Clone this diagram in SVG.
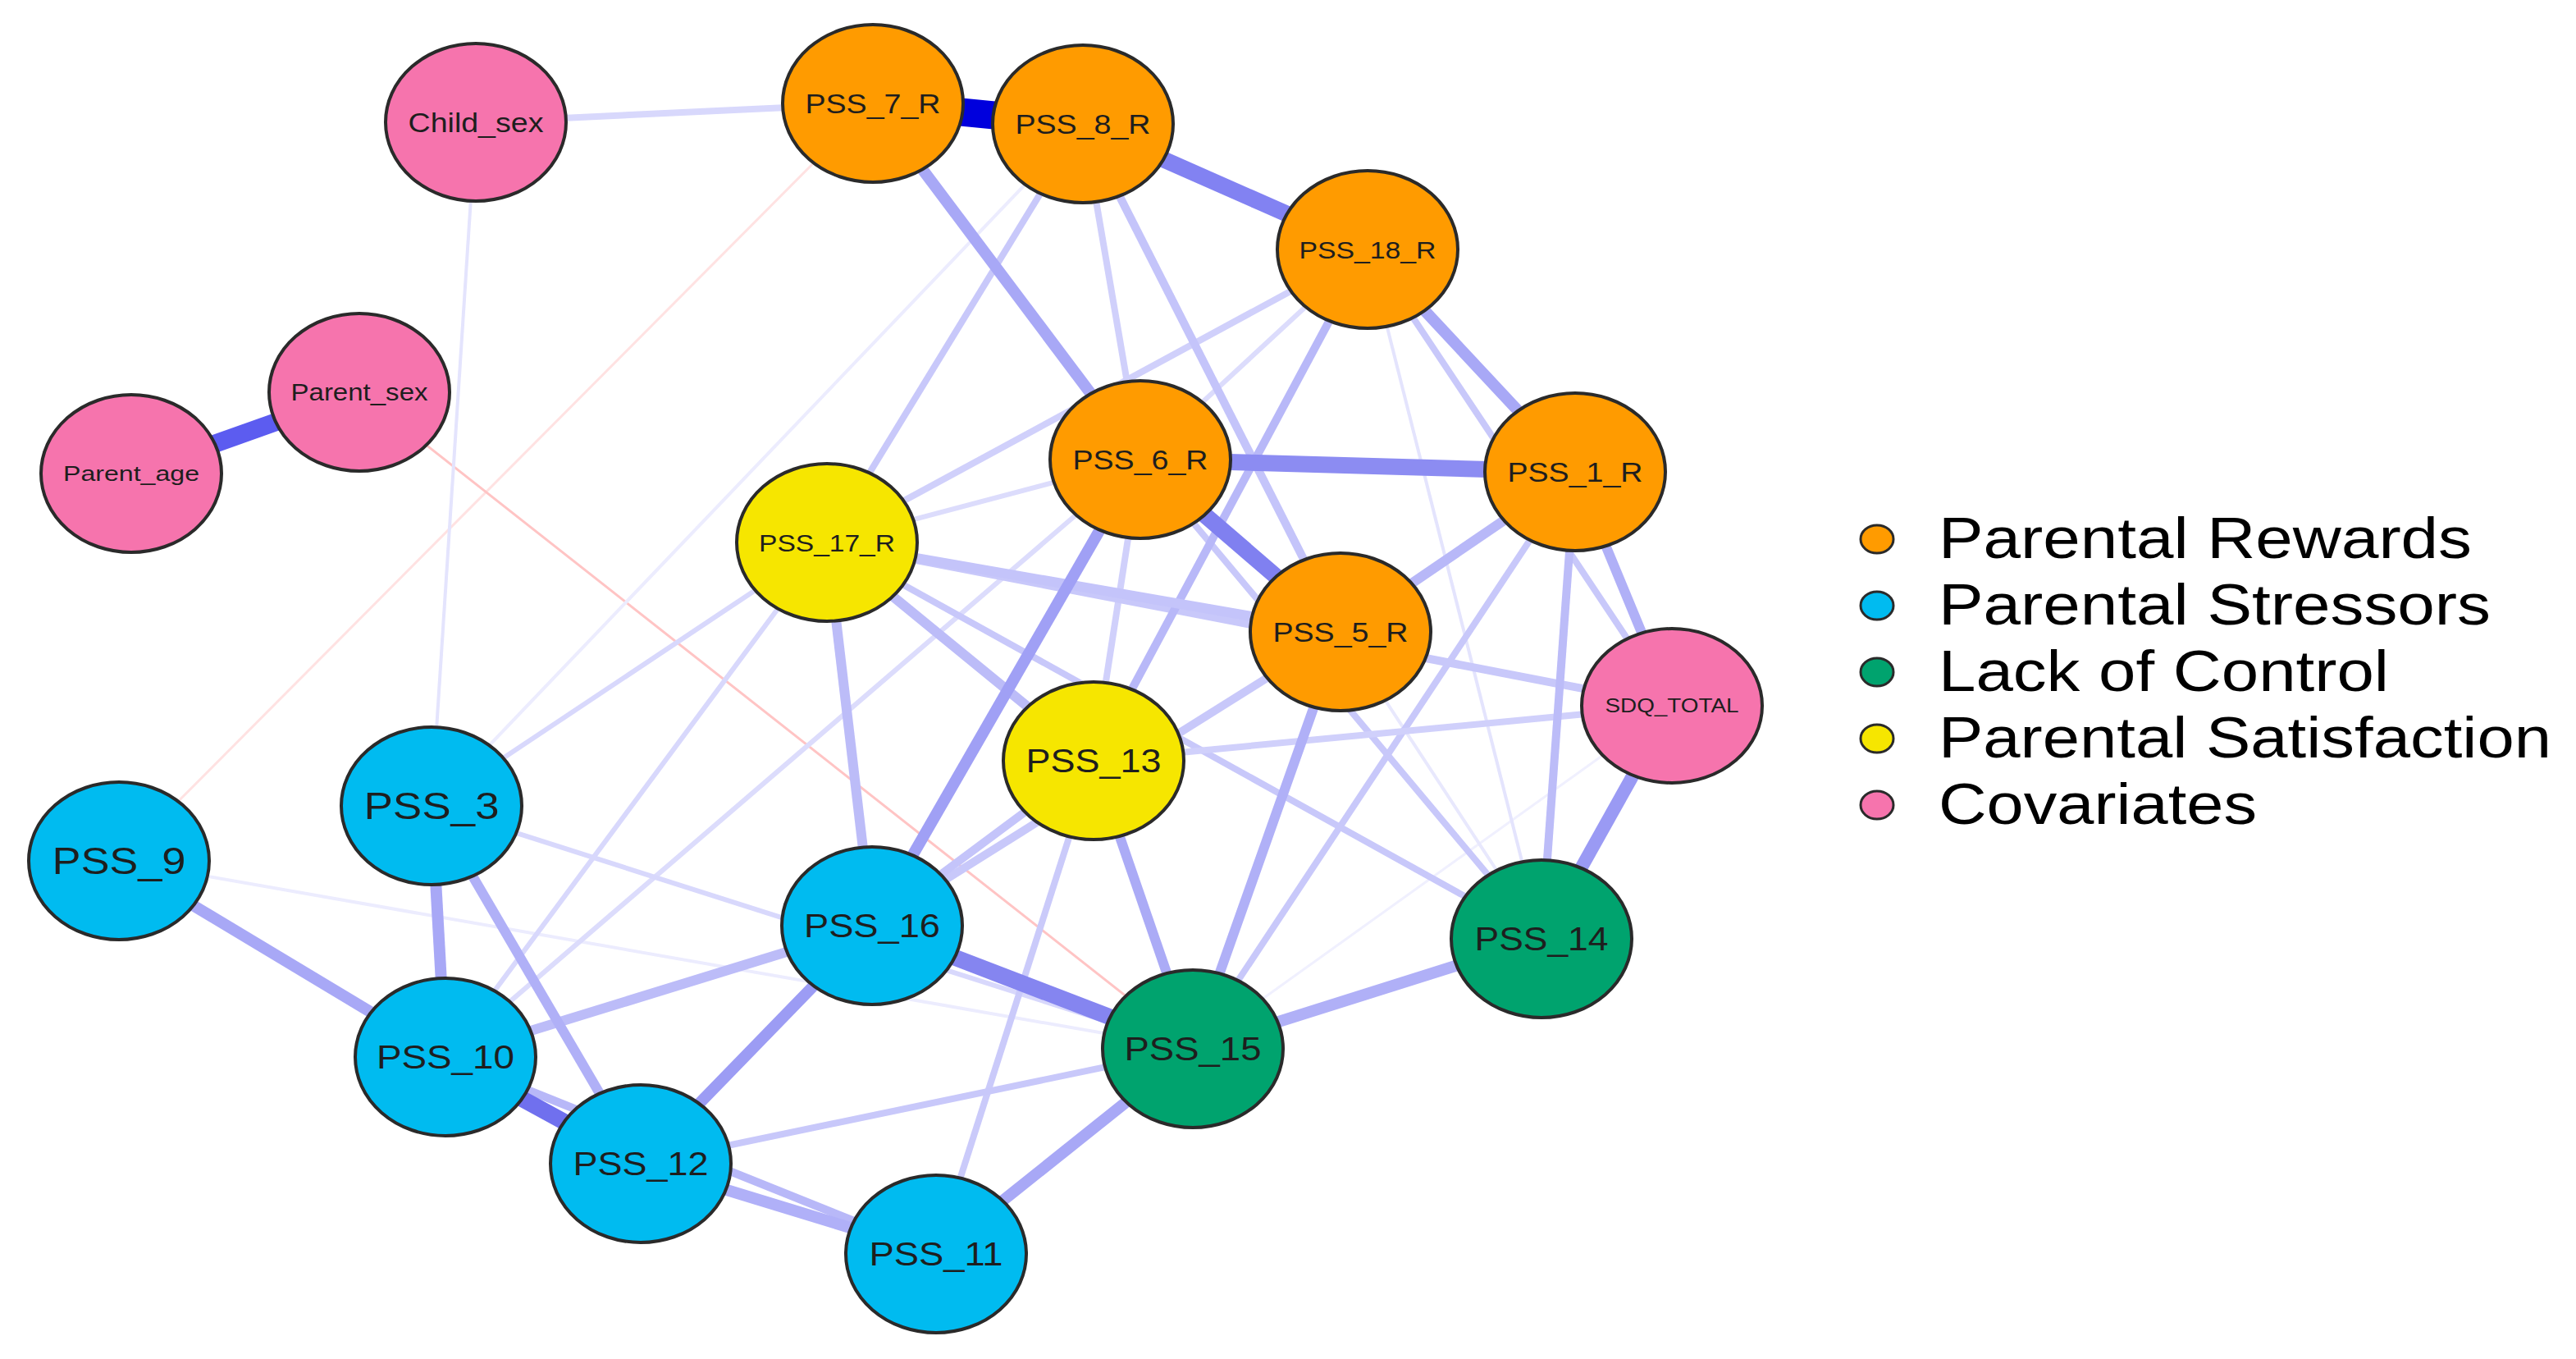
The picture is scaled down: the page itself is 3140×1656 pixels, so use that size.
<svg xmlns="http://www.w3.org/2000/svg" width="3140" height="1656" viewBox="0 0 3140 1656">
<style>
.e{fill:none;stroke-linecap:butt}
.n{stroke:#2a2a2a;stroke-width:4}
.o{fill:#FF9B00}.b{fill:#00BBF0}.g{fill:#00A36E}.y{fill:#F6E600}.p{fill:#F674AD}
.t{font-family:"Liberation Sans",Arial,Helvetica,sans-serif;fill:#1e1e1e;text-anchor:middle}
.lg{font-family:"Liberation Sans",Arial,Helvetica,sans-serif;fill:#000;font-size:70px}
.lc{stroke:#2a2a2a;stroke-width:3}
</style>
<rect width="3140" height="1656" fill="#fff"/>
<g id="connectors">
<!-- faint / negative -->
<line class="e" x1="1064" y1="126" x2="145" y2="1049" stroke="#ffe2e2" stroke-width="3"/>
<line class="e" x1="438" y1="478" x2="1454" y2="1278" stroke="#ffc4c4" stroke-width="3"/>
<line class="e" x1="2038" y1="860" x2="1454" y2="1278" stroke="#f0f0fe" stroke-width="3"/>
<line class="e" x1="145" y1="1049" x2="1454" y2="1278" stroke="#ececfe" stroke-width="4"/>
<line class="e" x1="1320" y1="151" x2="526" y2="982" stroke="#ececfe" stroke-width="4"/>
<line class="e" x1="1667" y1="304" x2="1879" y2="1144" stroke="#e4e4fd" stroke-width="4"/>
<line class="e" x1="1634" y1="770" x2="1879" y2="1144" stroke="#e8e8fd" stroke-width="4"/>
<line class="e" x1="580" y1="149" x2="526" y2="982" stroke="#e4e4fd" stroke-width="4"/>
<!-- light -->
<line class="e" x1="1390" y1="560" x2="1008" y2="661" stroke="#dcdcfc" stroke-width="6"/>
<line class="e" x1="1667" y1="304" x2="1390" y2="560" stroke="#dcdcfc" stroke-width="6"/>
<line class="e" x1="526" y1="982" x2="1008" y2="661" stroke="#d8d8fc" stroke-width="6"/>
<line class="e" x1="543" y1="1288" x2="1008" y2="661" stroke="#d8d8fc" stroke-width="6"/>
<line class="e" x1="543" y1="1288" x2="1390" y2="560" stroke="#dcdcfc" stroke-width="6"/>
<line class="e" x1="526" y1="982" x2="1454" y2="1278" stroke="#d8d8fc" stroke-width="6"/>
<line class="e" x1="580" y1="149" x2="1064" y2="126" stroke="#d8d8fc" stroke-width="8"/>
<line class="e" x1="1320" y1="151" x2="1390" y2="560" stroke="#d0d0fb" stroke-width="8"/>
<line class="e" x1="1320" y1="151" x2="1008" y2="661" stroke="#c8c8fa" stroke-width="8"/>
<line class="e" x1="1667" y1="304" x2="1008" y2="661" stroke="#d0d0fb" stroke-width="8"/>
<line class="e" x1="1667" y1="304" x2="2038" y2="860" stroke="#c8c8fa" stroke-width="8"/>
<line class="e" x1="1920" y1="575" x2="1454" y2="1278" stroke="#c8c8fa" stroke-width="8"/>
<line class="e" x1="1390" y1="560" x2="1879" y2="1144" stroke="#c8c8fa" stroke-width="8"/>
<line class="e" x1="1008" y1="661" x2="1879" y2="1144" stroke="#c8c8fa" stroke-width="8"/>
<line class="e" x1="1333" y1="927" x2="2038" y2="860" stroke="#d0d0fb" stroke-width="8"/>
<line class="e" x1="1333" y1="927" x2="1141" y2="1528" stroke="#cacafa" stroke-width="8"/>
<line class="e" x1="781" y1="1418" x2="1454" y2="1278" stroke="#c8c8fa" stroke-width="8"/>
<line class="e" x1="1390" y1="560" x2="1333" y2="927" stroke="#d0d0fb" stroke-width="8"/>
<line class="e" x1="1634" y1="770" x2="1063" y2="1128" stroke="#c8c8fa" stroke-width="10"/>
<line class="e" x1="1333" y1="927" x2="1063" y2="1128" stroke="#c4c4fa" stroke-width="10"/>
<line class="e" x1="1008" y1="661" x2="2038" y2="860" stroke="#c8c8fa" stroke-width="10"/>
<line class="e" x1="1320" y1="151" x2="1634" y2="770" stroke="#c4c4fa" stroke-width="10"/>
<line class="e" x1="1667" y1="304" x2="1333" y2="927" stroke="#b8b8f8" stroke-width="10"/>
<line class="e" x1="1920" y1="575" x2="1879" y2="1144" stroke="#bcbcf8" stroke-width="10"/>
<line class="e" x1="543" y1="1288" x2="1141" y2="1528" stroke="#b8b8f8" stroke-width="10"/>
<!-- medium -->
<line class="e" x1="1008" y1="661" x2="1634" y2="770" stroke="#c4c4fa" stroke-width="12"/>
<line class="e" x1="1008" y1="661" x2="1333" y2="927" stroke="#bcbcf8" stroke-width="12"/>
<line class="e" x1="1008" y1="661" x2="1063" y2="1128" stroke="#bcbcf8" stroke-width="12"/>
<line class="e" x1="543" y1="1288" x2="1063" y2="1128" stroke="#bcbcf8" stroke-width="12"/>
<line class="e" x1="1920" y1="575" x2="1634" y2="770" stroke="#b8b8f8" stroke-width="12"/>
<line class="e" x1="1920" y1="575" x2="2038" y2="860" stroke="#b0b0f7" stroke-width="12"/>
<line class="e" x1="1634" y1="770" x2="1454" y2="1278" stroke="#b0b0f7" stroke-width="12"/>
<line class="e" x1="1333" y1="927" x2="1454" y2="1278" stroke="#ababf6" stroke-width="12"/>
<line class="e" x1="526" y1="982" x2="781" y2="1418" stroke="#b0b0f7" stroke-width="12"/>
<line class="e" x1="1879" y1="1144" x2="1454" y2="1278" stroke="#b0b0f7" stroke-width="14"/>
<line class="e" x1="1141" y1="1528" x2="1454" y2="1278" stroke="#a8a8f6" stroke-width="14"/>
<line class="e" x1="781" y1="1418" x2="1141" y2="1528" stroke="#b0b0f8" stroke-width="14"/>
<line class="e" x1="145" y1="1049" x2="543" y2="1288" stroke="#a8a8f6" stroke-width="14"/>
<line class="e" x1="526" y1="982" x2="543" y2="1288" stroke="#a8a8f6" stroke-width="14"/>
<line class="e" x1="781" y1="1418" x2="1063" y2="1128" stroke="#9c9cf4" stroke-width="14"/>
<line class="e" x1="1390" y1="560" x2="1063" y2="1128" stroke="#a0a0f5" stroke-width="14"/>
<line class="e" x1="1064" y1="126" x2="1390" y2="560" stroke="#a8a8f6" stroke-width="14"/>
<line class="e" x1="1667" y1="304" x2="1920" y2="575" stroke="#a8a8f6" stroke-width="14"/>
<line class="e" x1="2038" y1="860" x2="1879" y2="1144" stroke="#9a9af4" stroke-width="16"/>
<!-- strong -->
<line class="e" x1="1063" y1="1128" x2="1454" y2="1278" stroke="#8585f0" stroke-width="20"/>
<line class="e" x1="543" y1="1288" x2="781" y2="1418" stroke="#7070ee" stroke-width="20"/>
<line class="e" x1="1390" y1="560" x2="1634" y2="770" stroke="#8080f0" stroke-width="20"/>
<line class="e" x1="1390" y1="560" x2="1920" y2="575" stroke="#8c8cf2" stroke-width="20"/>
<line class="e" x1="1320" y1="151" x2="1667" y2="304" stroke="#8282f2" stroke-width="20"/>
<line class="e" x1="160" y1="577" x2="438" y2="478" stroke="#5c5cf0" stroke-width="22"/>
<line class="e" x1="1064" y1="126" x2="1320" y2="151" stroke="#0000dd" stroke-width="34"/>
</g>
<g id="node-Child_sex"><ellipse class="n p" cx="580" cy="149" rx="110" ry="96"/><text class="t" x="580" y="161" font-size="33" textLength="165" lengthAdjust="spacingAndGlyphs">Child_sex</text></g>
<g id="node-PSS_7_R"><ellipse class="n o" cx="1064" cy="126" rx="110" ry="96"/><text class="t" x="1064" y="138" font-size="33" textLength="165" lengthAdjust="spacingAndGlyphs">PSS_7_R</text></g>
<g id="node-PSS_8_R"><ellipse class="n o" cx="1320" cy="151" rx="110" ry="96"/><text class="t" x="1320" y="163" font-size="33" textLength="165" lengthAdjust="spacingAndGlyphs">PSS_8_R</text></g>
<g id="node-PSS_18_R"><ellipse class="n o" cx="1667" cy="304" rx="110" ry="96"/><text class="t" x="1667" y="315" font-size="29.5" textLength="167" lengthAdjust="spacingAndGlyphs">PSS_18_R</text></g>
<g id="node-Parent_sex"><ellipse class="n p" cx="438" cy="478" rx="110" ry="96"/><text class="t" x="438" y="488" font-size="29" textLength="167" lengthAdjust="spacingAndGlyphs">Parent_sex</text></g>
<g id="node-Parent_age"><ellipse class="n p" cx="160" cy="577" rx="110" ry="96"/><text class="t" x="160" y="586" font-size="25" textLength="166" lengthAdjust="spacingAndGlyphs">Parent_age</text></g>
<g id="node-PSS_6_R"><ellipse class="n o" cx="1390" cy="560" rx="110" ry="96"/><text class="t" x="1390" y="572" font-size="33" textLength="165" lengthAdjust="spacingAndGlyphs">PSS_6_R</text></g>
<g id="node-PSS_1_R"><ellipse class="n o" cx="1920" cy="575" rx="110" ry="96"/><text class="t" x="1920" y="587" font-size="33" textLength="165" lengthAdjust="spacingAndGlyphs">PSS_1_R</text></g>
<g id="node-PSS_17_R"><ellipse class="n y" cx="1008" cy="661" rx="110" ry="96"/><text class="t" x="1008" y="672" font-size="29.5" textLength="166" lengthAdjust="spacingAndGlyphs">PSS_17_R</text></g>
<g id="node-PSS_5_R"><ellipse class="n o" cx="1634" cy="770" rx="110" ry="96"/><text class="t" x="1634" y="782" font-size="33" textLength="165" lengthAdjust="spacingAndGlyphs">PSS_5_R</text></g>
<g id="node-SDQ_TOTAL"><ellipse class="n p" cx="2038" cy="860" rx="110" ry="94"/><text class="t" x="2038" y="868" font-size="23" textLength="163" lengthAdjust="spacingAndGlyphs">SDQ_TOTAL</text></g>
<g id="node-PSS_13"><ellipse class="n y" cx="1333" cy="927" rx="110" ry="96"/><text class="t" x="1333" y="941" font-size="40" textLength="165" lengthAdjust="spacingAndGlyphs">PSS_13</text></g>
<g id="node-PSS_3"><ellipse class="n b" cx="526" cy="982" rx="110" ry="96"/><text class="t" x="526" y="998" font-size="46" textLength="165" lengthAdjust="spacingAndGlyphs">PSS_3</text></g>
<g id="node-PSS_9"><ellipse class="n b" cx="145" cy="1049" rx="110" ry="96"/><text class="t" x="145" y="1065" font-size="46" textLength="163" lengthAdjust="spacingAndGlyphs">PSS_9</text></g>
<g id="node-PSS_16"><ellipse class="n b" cx="1063" cy="1128" rx="110" ry="96"/><text class="t" x="1063" y="1142" font-size="40" textLength="166" lengthAdjust="spacingAndGlyphs">PSS_16</text></g>
<g id="node-PSS_14"><ellipse class="n g" cx="1879" cy="1144" rx="110" ry="96"/><text class="t" x="1879" y="1158" font-size="40" textLength="163" lengthAdjust="spacingAndGlyphs">PSS_14</text></g>
<g id="node-PSS_10"><ellipse class="n b" cx="543" cy="1288" rx="110" ry="96"/><text class="t" x="543" y="1302" font-size="40" textLength="168" lengthAdjust="spacingAndGlyphs">PSS_10</text></g>
<g id="node-PSS_15"><ellipse class="n g" cx="1454" cy="1278" rx="110" ry="96"/><text class="t" x="1454" y="1292" font-size="40" textLength="167" lengthAdjust="spacingAndGlyphs">PSS_15</text></g>
<g id="node-PSS_12"><ellipse class="n b" cx="781" cy="1418" rx="110" ry="96"/><text class="t" x="781" y="1432" font-size="40" textLength="165" lengthAdjust="spacingAndGlyphs">PSS_12</text></g>
<g id="node-PSS_11"><ellipse class="n b" cx="1141" cy="1528" rx="110" ry="96"/><text class="t" x="1141" y="1542" font-size="40" textLength="163" lengthAdjust="spacingAndGlyphs">PSS_11</text></g>
<g id="legend">
<ellipse class="lc o" cx="2288" cy="657" rx="20" ry="17"/><text class="lg" x="2363" y="680" textLength="650" lengthAdjust="spacingAndGlyphs">Parental Rewards</text>
<ellipse class="lc b" cx="2288" cy="738" rx="20" ry="17"/><text class="lg" x="2363" y="761" textLength="673" lengthAdjust="spacingAndGlyphs">Parental Stressors</text>
<ellipse class="lc g" cx="2288" cy="819" rx="20" ry="17"/><text class="lg" x="2363" y="842" textLength="549" lengthAdjust="spacingAndGlyphs">Lack of Control</text>
<ellipse class="lc y" cx="2288" cy="900" rx="20" ry="17"/><text class="lg" x="2363" y="923" textLength="747" lengthAdjust="spacingAndGlyphs">Parental Satisfaction</text>
<ellipse class="lc p" cx="2288" cy="981" rx="20" ry="17"/><text class="lg" x="2363" y="1004" textLength="388" lengthAdjust="spacingAndGlyphs">Covariates</text>
</g>
</svg>
